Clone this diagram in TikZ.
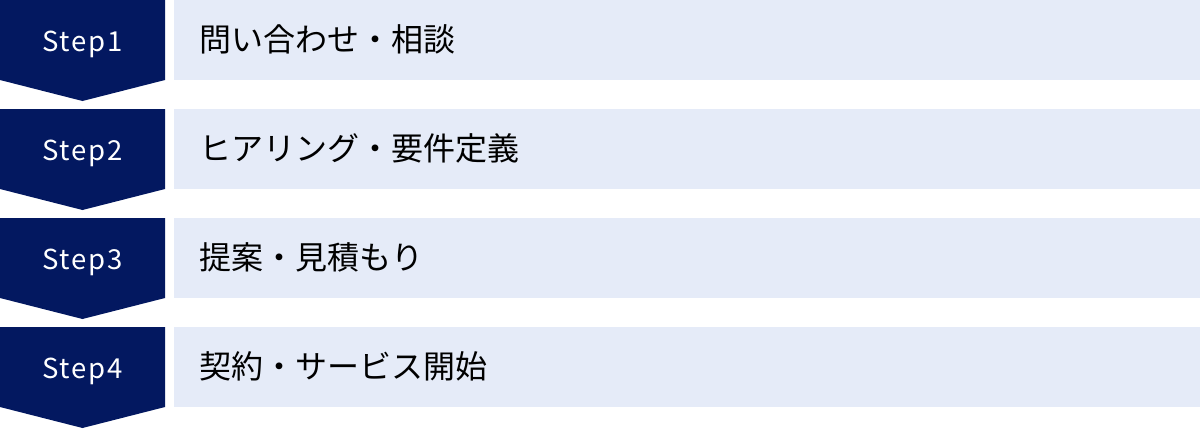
\documentclass[tikz,border=0pt]{standalone}
\usepackage{fontspec}
\newfontfamily\cjk{Noto Sans CJK JP}
\newfontfamily\stepfont[LetterSpace=7]{Noto Sans CJK JP}
\definecolor{navy}{RGB}{3,24,96}
\definecolor{band}{RGB}{229,235,248}
\tikzset{
  stepshape/.style={fill=navy, draw=none},
  bandbox/.style={fill=band, draw=none},
  steplabel/.style={text=white, font=\stepfont\fontsize{27.5}{30}\selectfont, inner sep=0pt, anchor=base},
  bandlabel/.style={text=black, font=\cjk\fontsize{32}{36}\selectfont, anchor=base west, inner sep=0pt}
}
\begin{document}
\begin{tikzpicture}[x=1pt,y=-1pt]
\useasboundingbox (0,0) rectangle (1200,429);
\foreach \i/\s/\t in {0/Step1/問い合わせ・相談, 1/Step2/ヒアリング・要件定義, 2/Step3/提案・見積もり, 3/Step4/契約・サービス開始}{
  \pgfmathsetmacro{\yy}{\i*109}
  \fill[stepshape] (0,\yy) -- (165,\yy) -- (165,\yy+80) -- (82.5,\yy+101) -- (0,\yy+80) -- cycle;
  \fill[bandbox] (174,\yy) rectangle (1200,\yy+80);
  \node[steplabel] (s\i) at (82.5,\yy+51.5) {\s};
  \node[bandlabel] (t\i) at (199,\yy+51) {\t};
}
\end{tikzpicture}
\end{document}
